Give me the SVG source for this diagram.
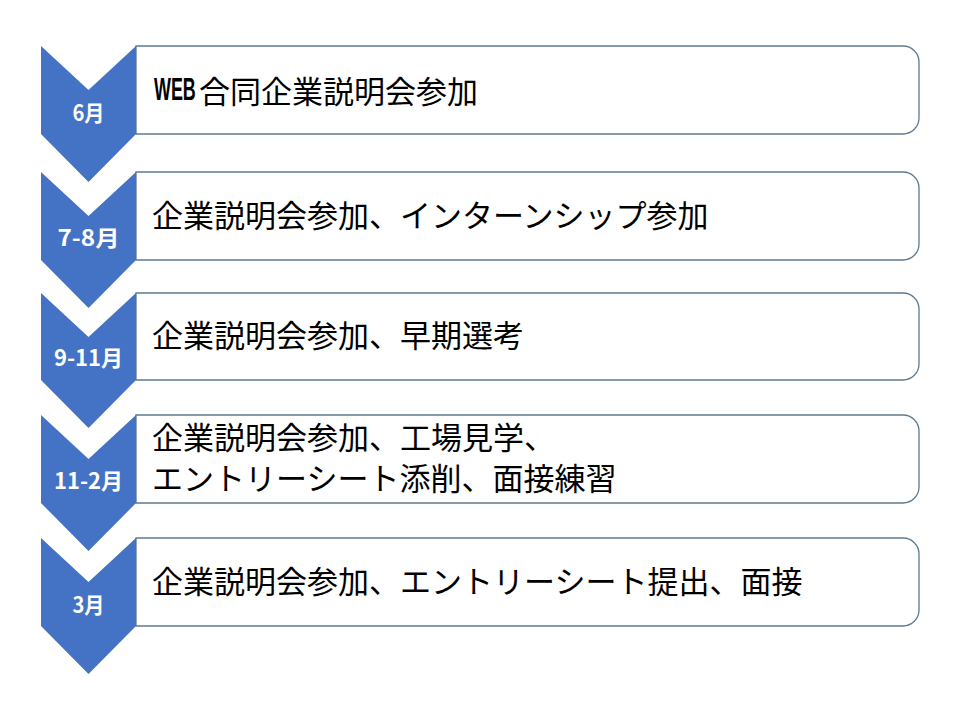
<svg xmlns="http://www.w3.org/2000/svg" width="960" height="720" viewBox="0 0 960 720">
<style>
.box{fill:#ffffff;stroke:#5e7a90;stroke-width:1.3}
.chev{fill:#4472c4}
.t{font-family:"Noto Sans CJK JP","Noto Sans",sans-serif;font-size:31px;fill:#000000}
.lat{font-family:"Liberation Sans",Arial,sans-serif;font-size:32px;font-weight:bold;fill:#000000}
.lbl{font-family:"Noto Sans CJK JP","Noto Sans",sans-serif;font-size:22px;font-weight:bold;fill:#ffffff;text-anchor:middle}
</style>
<rect width="960" height="720" fill="#ffffff"/>
<g id="step1">
<path class="box" d="M136,46 H903 A16,16 0 0 1 919,62 V118 A16,16 0 0 1 903,134 H136 Z"/>
<path class="chev" d="M41,46 L88.5,90 L136,46 L136,134 L88.5,182 L41,134 Z"/>
<text class="lbl" x="88.5" y="121" textLength="32" lengthAdjust="spacingAndGlyphs">6月</text>
<text class="lat" transform="translate(154,100) scale(0.56,1)">WEB</text>
<text class="t" x="199" y="103">合同企業説明会参加</text>
</g>
<g id="step2">
<path class="box" d="M136,172 H903 A16,16 0 0 1 919,188 V244 A16,16 0 0 1 903,260 H136 Z"/>
<path class="chev" d="M41,172 L88.5,216 L136,172 L136,260 L88.5,308 L41,260 Z"/>
<text class="lbl" x="88.5" y="246" textLength="62" lengthAdjust="spacingAndGlyphs">7-8月</text>
<text class="t" x="152" y="227">企業説明会参加、インターンシップ参加</text>
</g>
<g id="step3">
<path class="box" d="M136,293 H903 A16,16 0 0 1 919,309 V364 A16,16 0 0 1 903,380 H136 Z"/>
<path class="chev" d="M41,293 L88.5,337 L136,293 L136,380 L88.5,428 L41,380 Z"/>
<text class="lbl" x="88.5" y="366" textLength="69" lengthAdjust="spacingAndGlyphs">9-11月</text>
<text class="t" x="152" y="347">企業説明会参加、早期選考</text>
</g>
<g id="step4">
<path class="box" d="M136,415 H903 A16,16 0 0 1 919,431 V487 A16,16 0 0 1 903,503 H136 Z"/>
<path class="chev" d="M41,415 L88.5,459 L136,415 L136,503 L88.5,551 L41,503 Z"/>
<text class="lbl" x="88.5" y="489" textLength="69" lengthAdjust="spacingAndGlyphs">11-2月</text>
<text class="t" x="152" y="449">企業説明会参加、工場見学、</text>
<text class="t" x="152" y="490">エントリーシート添削、面接練習</text>
</g>
<g id="step5">
<path class="box" d="M136,538 H903 A16,16 0 0 1 919,554 V610 A16,16 0 0 1 903,626 H136 Z"/>
<path class="chev" d="M41,538 L88.5,582 L136,538 L136,626 L88.5,674 L41,626 Z"/>
<text class="lbl" x="88.5" y="613" textLength="32" lengthAdjust="spacingAndGlyphs">3月</text>
<text class="t" x="152" y="593">企業説明会参加、エントリーシート提出、面接</text>
</g>
<g id="connectors"></g>
</svg>
